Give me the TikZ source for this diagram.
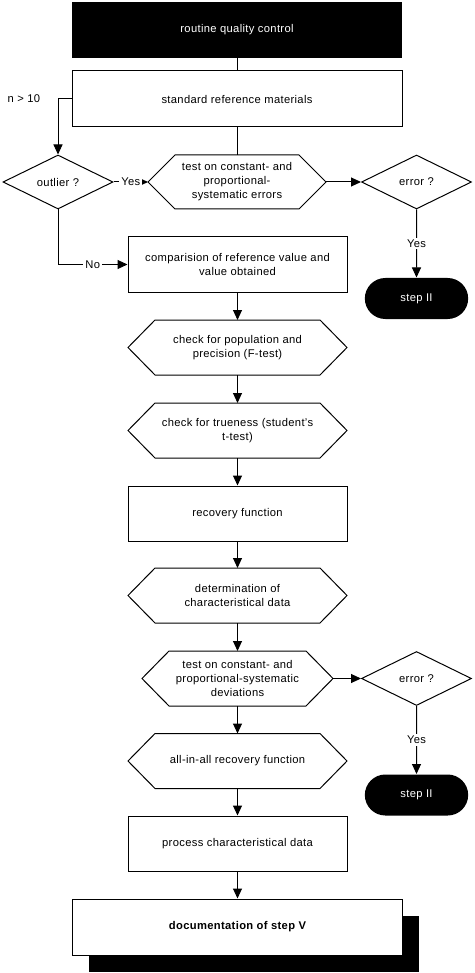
\documentclass[tikz,border=0pt]{standalone}
\usepackage{fontspec}
\setmainfont[LetterSpace=3]{Liberation Sans}
\usetikzlibrary{shapes.geometric,shapes.misc,arrows.meta,shadows}

\begin{document}
\begin{tikzpicture}[x=1pt,y=-1pt,line width=1pt,
    font=\fontsize{11.2}{14}\selectfont,
    >={Triangle[length=10pt,width=9pt]},
    box/.style={draw,rectangle,minimum width=#1,minimum height=55pt,inner sep=2pt,align=center},
    blackbox/.style={rectangle,fill=black,text=white,minimum width=330pt,minimum height=56pt},
    hexbox/.style={rectangle,outer sep=0pt,minimum width=#1,minimum height=55pt,inner sep=2pt,align=center,
        append after command={\pgfextra{\draw (\tikzlastnode.west) -- ([xshift=27pt]\tikzlastnode.north west)
            -- ([xshift=-27pt]\tikzlastnode.north east) -- (\tikzlastnode.east)
            -- ([xshift=-27pt]\tikzlastnode.south east) -- ([xshift=27pt]\tikzlastnode.south west) -- cycle;}}},
    diam/.style={diamond,draw,minimum width=110pt,minimum height=54pt,inner sep=0pt},
    stepnode/.style={rounded rectangle,fill=black,text=white,minimum width=110pt,minimum height=41pt},
    docbox/.style={rectangle,draw,fill=white,minimum width=330pt,minimum height=56pt,font=\fontsize{11.2}{14}\selectfont\bfseries,
        drop shadow={shadow xshift=16pt,shadow yshift=-17pt,fill=black,opacity=1}},
    lbl/.style={fill=white,inner sep=2pt}]
\useasboundingbox (0,0) rectangle (474,973);
\node[blackbox] (qc) at (237,30) {routine quality control};
\node[box=330pt,minimum height=56pt] (srm) at (237,99) {standard reference materials};
\node[diam] (outl) at (58,182) {outlier ?};
\node[hexbox=178pt,minimum height=54pt] (tce) at (237,182) {test on constant- and\\proportional-\\systematic errors};
\node[diam] (err1) at (416.5,182) {error ?};
\node[stepnode] (st1) at (416.5,298.5) {step II};
\node[box=219pt] (cmp) at (237.5,264.5) {comparision of reference value and\\value obtained};
\node[hexbox=219pt] (pop) at (237.5,347.5) {check for population and\\precision (F-test)};
\node[hexbox=219pt] (tru) at (237.5,430.5) {check for trueness (student's\\t-test)};
\node[box=219pt] (rec) at (237.5,513.5) {recovery function};
\node[hexbox=219pt] (det) at (237.5,595.5) {determination of\\characteristical data};
\node[hexbox=191pt] (tcd) at (237.5,678.5) {test on constant- and\\proportional-systematic\\deviations};
\node[diam] (err2) at (416.5,678.5) {error ?};
\node[stepnode] (st2) at (416.5,795) {step II};
\node[hexbox=219pt] (aia) at (237.5,761) {all-in-all recovery function};
\node[box=219pt] (pcd) at (237.5,843.5) {process characteristical data};
\node[docbox] (doc) at (237.5,927) {documentation of step V};
\draw (qc) -- (srm);
\draw (srm) -- (tce);
\draw[->] (srm.west) -| (outl.north) node[pos=0.5,left=14pt] {n > 10};
\draw[->] (outl) -- node[lbl] {Yes} (tce);
\draw[->] (outl) |- node[pos=0.75,lbl] {No} (cmp);
\draw[->] (tce) -- (err1);
\draw[->] (err1) -- node[lbl] {Yes} (st1);
\draw[->] (tcd) -- (err2);
\draw[->] (err2) -- node[lbl] {Yes} (st2);
\foreach \a/\b in {cmp/pop,pop/tru,tru/rec,rec/det,det/tcd,tcd/aia,aia/pcd,pcd/doc}
    \draw[->] (\a) -- (\b);
\end{tikzpicture}
\end{document}
